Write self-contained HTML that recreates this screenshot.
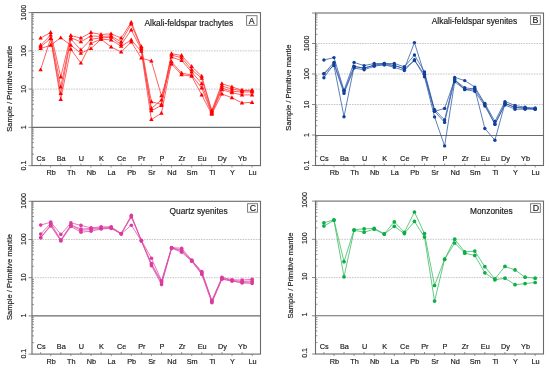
<!DOCTYPE html>
<html><head><meta charset="utf-8"><title>Spider diagrams</title>
<style>
html,body{margin:0;padding:0;background:#fff;width:550px;height:372px;overflow:hidden}
svg{display:block}
text{font-family:'Liberation Sans', Arial, Helvetica, sans-serif;fill:#1c1c1c;stroke:#1c1c1c;stroke-width:0.18px}
</style></head><body>
<svg width="550" height="372" viewBox="0 0 550 372">
<rect width="550" height="372" fill="#fff"/>
<line x1="32" y1="89.1" x2="260.5" y2="89.1" stroke="#b8b8b8" stroke-width="0.8" stroke-dasharray="1.6,1"/>
<line x1="32" y1="50.85" x2="260.5" y2="50.85" stroke="#b8b8b8" stroke-width="0.8" stroke-dasharray="1.6,1"/>
<line x1="32" y1="127.35" x2="260.5" y2="127.35" stroke="#6a6a6a" stroke-width="1.1"/>
<line x1="32" y1="154.09" x2="34" y2="154.09" stroke="#6a6a6a" stroke-width="0.7"/>
<line x1="32" y1="147.35" x2="34" y2="147.35" stroke="#6a6a6a" stroke-width="0.7"/>
<line x1="32" y1="142.57" x2="34" y2="142.57" stroke="#6a6a6a" stroke-width="0.7"/>
<line x1="32" y1="138.86" x2="34" y2="138.86" stroke="#6a6a6a" stroke-width="0.7"/>
<line x1="32" y1="135.84" x2="34" y2="135.84" stroke="#6a6a6a" stroke-width="0.7"/>
<line x1="32" y1="133.27" x2="34" y2="133.27" stroke="#6a6a6a" stroke-width="0.7"/>
<line x1="32" y1="131.06" x2="34" y2="131.06" stroke="#6a6a6a" stroke-width="0.7"/>
<line x1="32" y1="129.1" x2="34" y2="129.1" stroke="#6a6a6a" stroke-width="0.7"/>
<line x1="32" y1="115.84" x2="34" y2="115.84" stroke="#6a6a6a" stroke-width="0.7"/>
<line x1="32" y1="109.1" x2="34" y2="109.1" stroke="#6a6a6a" stroke-width="0.7"/>
<line x1="32" y1="104.32" x2="34" y2="104.32" stroke="#6a6a6a" stroke-width="0.7"/>
<line x1="32" y1="100.61" x2="34" y2="100.61" stroke="#6a6a6a" stroke-width="0.7"/>
<line x1="32" y1="97.59" x2="34" y2="97.59" stroke="#6a6a6a" stroke-width="0.7"/>
<line x1="32" y1="95.02" x2="34" y2="95.02" stroke="#6a6a6a" stroke-width="0.7"/>
<line x1="32" y1="92.81" x2="34" y2="92.81" stroke="#6a6a6a" stroke-width="0.7"/>
<line x1="32" y1="90.85" x2="34" y2="90.85" stroke="#6a6a6a" stroke-width="0.7"/>
<line x1="32" y1="77.59" x2="34" y2="77.59" stroke="#6a6a6a" stroke-width="0.7"/>
<line x1="32" y1="70.85" x2="34" y2="70.85" stroke="#6a6a6a" stroke-width="0.7"/>
<line x1="32" y1="66.07" x2="34" y2="66.07" stroke="#6a6a6a" stroke-width="0.7"/>
<line x1="32" y1="62.36" x2="34" y2="62.36" stroke="#6a6a6a" stroke-width="0.7"/>
<line x1="32" y1="59.34" x2="34" y2="59.34" stroke="#6a6a6a" stroke-width="0.7"/>
<line x1="32" y1="56.77" x2="34" y2="56.77" stroke="#6a6a6a" stroke-width="0.7"/>
<line x1="32" y1="54.56" x2="34" y2="54.56" stroke="#6a6a6a" stroke-width="0.7"/>
<line x1="32" y1="52.6" x2="34" y2="52.6" stroke="#6a6a6a" stroke-width="0.7"/>
<line x1="32" y1="39.34" x2="34" y2="39.34" stroke="#6a6a6a" stroke-width="0.7"/>
<line x1="32" y1="32.6" x2="34" y2="32.6" stroke="#6a6a6a" stroke-width="0.7"/>
<line x1="32" y1="27.82" x2="34" y2="27.82" stroke="#6a6a6a" stroke-width="0.7"/>
<line x1="32" y1="24.11" x2="34" y2="24.11" stroke="#6a6a6a" stroke-width="0.7"/>
<line x1="32" y1="21.09" x2="34" y2="21.09" stroke="#6a6a6a" stroke-width="0.7"/>
<line x1="32" y1="18.52" x2="34" y2="18.52" stroke="#6a6a6a" stroke-width="0.7"/>
<line x1="32" y1="16.31" x2="34" y2="16.31" stroke="#6a6a6a" stroke-width="0.7"/>
<line x1="32" y1="14.35" x2="34" y2="14.35" stroke="#6a6a6a" stroke-width="0.7"/>
<line x1="28.5" y1="165.6" x2="32" y2="165.6" stroke="#6a6a6a" stroke-width="0.8"/>
<line x1="28.5" y1="127.35" x2="32" y2="127.35" stroke="#6a6a6a" stroke-width="0.8"/>
<line x1="28.5" y1="89.1" x2="32" y2="89.1" stroke="#6a6a6a" stroke-width="0.8"/>
<line x1="28.5" y1="50.85" x2="32" y2="50.85" stroke="#6a6a6a" stroke-width="0.8"/>
<line x1="28.5" y1="12.6" x2="32" y2="12.6" stroke="#6a6a6a" stroke-width="0.8"/>
<line x1="40.6" y1="165.6" x2="40.6" y2="163.6" stroke="#6a6a6a" stroke-width="0.7"/>
<line x1="50.67" y1="165.6" x2="50.67" y2="167.6" stroke="#6a6a6a" stroke-width="0.7"/>
<line x1="60.74" y1="165.6" x2="60.74" y2="163.6" stroke="#6a6a6a" stroke-width="0.7"/>
<line x1="70.81" y1="165.6" x2="70.81" y2="167.6" stroke="#6a6a6a" stroke-width="0.7"/>
<line x1="80.88" y1="165.6" x2="80.88" y2="163.6" stroke="#6a6a6a" stroke-width="0.7"/>
<line x1="90.95" y1="165.6" x2="90.95" y2="167.6" stroke="#6a6a6a" stroke-width="0.7"/>
<line x1="101.02" y1="165.6" x2="101.02" y2="163.6" stroke="#6a6a6a" stroke-width="0.7"/>
<line x1="111.09" y1="165.6" x2="111.09" y2="167.6" stroke="#6a6a6a" stroke-width="0.7"/>
<line x1="121.16" y1="165.6" x2="121.16" y2="163.6" stroke="#6a6a6a" stroke-width="0.7"/>
<line x1="131.23" y1="165.6" x2="131.23" y2="167.6" stroke="#6a6a6a" stroke-width="0.7"/>
<line x1="141.3" y1="165.6" x2="141.3" y2="163.6" stroke="#6a6a6a" stroke-width="0.7"/>
<line x1="151.37" y1="165.6" x2="151.37" y2="167.6" stroke="#6a6a6a" stroke-width="0.7"/>
<line x1="161.44" y1="165.6" x2="161.44" y2="163.6" stroke="#6a6a6a" stroke-width="0.7"/>
<line x1="171.51" y1="165.6" x2="171.51" y2="167.6" stroke="#6a6a6a" stroke-width="0.7"/>
<line x1="181.58" y1="165.6" x2="181.58" y2="163.6" stroke="#6a6a6a" stroke-width="0.7"/>
<line x1="191.65" y1="165.6" x2="191.65" y2="167.6" stroke="#6a6a6a" stroke-width="0.7"/>
<line x1="201.72" y1="165.6" x2="201.72" y2="163.6" stroke="#6a6a6a" stroke-width="0.7"/>
<line x1="211.79" y1="165.6" x2="211.79" y2="167.6" stroke="#6a6a6a" stroke-width="0.7"/>
<line x1="221.86" y1="165.6" x2="221.86" y2="163.6" stroke="#6a6a6a" stroke-width="0.7"/>
<line x1="231.93" y1="165.6" x2="231.93" y2="167.6" stroke="#6a6a6a" stroke-width="0.7"/>
<line x1="242" y1="165.6" x2="242" y2="163.6" stroke="#6a6a6a" stroke-width="0.7"/>
<line x1="252.07" y1="165.6" x2="252.07" y2="167.6" stroke="#6a6a6a" stroke-width="0.7"/>
<rect x="32" y="12.6" width="228.5" height="153" fill="none" stroke="#6a6a6a" stroke-width="1.1"/>
<text x="41" y="160.9" text-anchor="middle" font-size="7.3">Cs</text>
<text x="51.07" y="175.4" text-anchor="middle" font-size="7.3">Rb</text>
<text x="61.14" y="160.9" text-anchor="middle" font-size="7.3">Ba</text>
<text x="71.21" y="175.4" text-anchor="middle" font-size="7.3">Th</text>
<text x="81.28" y="160.9" text-anchor="middle" font-size="7.3">U</text>
<text x="91.35" y="175.4" text-anchor="middle" font-size="7.3">Nb</text>
<text x="101.42" y="160.9" text-anchor="middle" font-size="7.3">K</text>
<text x="111.49" y="175.4" text-anchor="middle" font-size="7.3">La</text>
<text x="121.56" y="160.9" text-anchor="middle" font-size="7.3">Ce</text>
<text x="131.63" y="175.4" text-anchor="middle" font-size="7.3">Pb</text>
<text x="141.7" y="160.9" text-anchor="middle" font-size="7.3">Pr</text>
<text x="151.77" y="175.4" text-anchor="middle" font-size="7.3">Sr</text>
<text x="161.84" y="160.9" text-anchor="middle" font-size="7.3">P</text>
<text x="171.91" y="175.4" text-anchor="middle" font-size="7.3">Nd</text>
<text x="181.98" y="160.9" text-anchor="middle" font-size="7.3">Zr</text>
<text x="192.05" y="175.4" text-anchor="middle" font-size="7.3">Sm</text>
<text x="202.12" y="160.9" text-anchor="middle" font-size="7.3">Eu</text>
<text x="212.19" y="175.4" text-anchor="middle" font-size="7.3">Ti</text>
<text x="222.26" y="160.9" text-anchor="middle" font-size="7.3">Dy</text>
<text x="232.33" y="175.4" text-anchor="middle" font-size="7.3">Y</text>
<text x="242.4" y="160.9" text-anchor="middle" font-size="7.3">Yb</text>
<text x="252.47" y="175.4" text-anchor="middle" font-size="7.3">Lu</text>
<text transform="translate(25.9,165.6) rotate(-90)" text-anchor="middle" font-size="7">0.1</text>
<text transform="translate(25.9,127.35) rotate(-90)" text-anchor="middle" font-size="7">1</text>
<text transform="translate(25.9,89.1) rotate(-90)" text-anchor="middle" font-size="7">10</text>
<text transform="translate(25.9,50.85) rotate(-90)" text-anchor="middle" font-size="7">100</text>
<text transform="translate(25.9,12.6) rotate(-90)" text-anchor="middle" font-size="7">1000</text>
<text transform="translate(11.9,88.8) rotate(-90)" text-anchor="middle" font-size="7.6">Sample / Primitive mantle</text>
<text x="144.5" y="25.5" font-size="8.35">Alkali-feldspar trachytes</text>
<rect x="246.6" y="15.7" width="10.4" height="9.6" fill="none" stroke="#707070" stroke-width="0.9"/>
<text x="251.8" y="23.5" text-anchor="middle" font-size="8.8">A</text>
<polyline points="40.6,38.1 50.67,32.4 60.74,76.9 70.81,35.5 80.88,38.1 90.95,32.5 101.02,34.5 111.09,33.8 121.16,38.1 131.23,22.3 141.3,46.6 151.37,101.7 161.44,104.4 171.51,53.7 181.58,55.5 191.65,66.5 201.72,76.2 211.79,110.6 221.86,83.7 231.93,86.9 242,90.2 252.07,90.2" fill="none" stroke="#ff3a3a" stroke-width="0.8" stroke-linejoin="round"/>
<polyline points="40.6,45.2 50.67,35.1 60.74,86.9 70.81,37.8 80.88,41.8 90.95,35.9 101.02,36.5 111.09,35.9 121.16,41.9 131.23,24 141.3,48 151.37,108.4 161.44,100 171.51,55 181.58,57.8 191.65,69.7 201.72,78.3 211.79,111.5 221.86,85.9 231.93,89.1 242,90.6 252.07,90.8" fill="none" stroke="#ff3a3a" stroke-width="0.8" stroke-linejoin="round"/>
<polyline points="40.6,46.8 50.67,38.5 60.74,93.6 70.81,39.1 80.88,49.9 90.95,39.2 101.02,37.9 111.09,37.2 121.16,44.6 131.23,29.9 141.3,49.3 151.37,110.8 161.44,105.4 171.51,57.1 181.58,60.6 191.65,71.9 201.72,83.7 211.79,112.7 221.86,88 231.93,91.2 242,92 252.07,92" fill="none" stroke="#ff3a3a" stroke-width="0.8" stroke-linejoin="round"/>
<polyline points="40.6,69.8 50.67,38.5 60.74,99.4 70.81,49.2 80.88,63.1 90.95,43.3 101.02,39.2 111.09,39.9 121.16,46.2 131.23,40 141.3,51.3 151.37,119.6 161.44,113.2 171.51,61.7 181.58,73.1 191.65,75.1 201.72,88 211.79,113.5 221.86,89.7 231.93,92.7 242,94.9 252.07,94.9" fill="none" stroke="#ff3a3a" stroke-width="0.8" stroke-linejoin="round"/>
<polyline points="40.6,48.6 50.67,45.2 60.74,37.8 70.81,45.2 80.88,53.3 90.95,48.6 101.02,39.2 111.09,46.9 121.16,52 131.23,42 141.3,58.1 151.37,61 161.44,95.8 171.51,64 181.58,74.7 191.65,76.2 201.72,94.9 211.79,114.2 221.86,94 231.93,97.7 242,102.9 252.07,102.4" fill="none" stroke="#ff3a3a" stroke-width="0.8" stroke-linejoin="round"/>
<path d="M40.6,35.7L42.8,39.6L38.4,39.6Z" fill="#ff0000"/>
<path d="M50.67,30L52.87,33.9L48.47,33.9Z" fill="#ff0000"/>
<path d="M60.74,74.5L62.94,78.4L58.54,78.4Z" fill="#ff0000"/>
<path d="M70.81,33.1L73.01,37L68.61,37Z" fill="#ff0000"/>
<path d="M80.88,35.7L83.08,39.6L78.68,39.6Z" fill="#ff0000"/>
<path d="M90.95,30.1L93.15,34L88.75,34Z" fill="#ff0000"/>
<path d="M101.02,32.1L103.22,36L98.82,36Z" fill="#ff0000"/>
<path d="M111.09,31.4L113.29,35.3L108.89,35.3Z" fill="#ff0000"/>
<path d="M121.16,35.7L123.36,39.6L118.96,39.6Z" fill="#ff0000"/>
<path d="M131.23,19.9L133.43,23.8L129.03,23.8Z" fill="#ff0000"/>
<path d="M141.3,44.2L143.5,48.1L139.1,48.1Z" fill="#ff0000"/>
<path d="M151.37,99.3L153.57,103.2L149.17,103.2Z" fill="#ff0000"/>
<path d="M161.44,102L163.64,105.9L159.24,105.9Z" fill="#ff0000"/>
<path d="M171.51,51.3L173.71,55.2L169.31,55.2Z" fill="#ff0000"/>
<path d="M181.58,53.1L183.78,57L179.38,57Z" fill="#ff0000"/>
<path d="M191.65,64.1L193.85,68L189.45,68Z" fill="#ff0000"/>
<path d="M201.72,73.8L203.92,77.7L199.52,77.7Z" fill="#ff0000"/>
<path d="M211.79,108.2L213.99,112.1L209.59,112.1Z" fill="#ff0000"/>
<path d="M221.86,81.3L224.06,85.2L219.66,85.2Z" fill="#ff0000"/>
<path d="M231.93,84.5L234.13,88.4L229.73,88.4Z" fill="#ff0000"/>
<path d="M242,87.8L244.2,91.7L239.8,91.7Z" fill="#ff0000"/>
<path d="M252.07,87.8L254.27,91.7L249.87,91.7Z" fill="#ff0000"/>
<path d="M40.6,42.8L42.8,46.7L38.4,46.7Z" fill="#ff0000"/>
<path d="M50.67,32.7L52.87,36.6L48.47,36.6Z" fill="#ff0000"/>
<path d="M60.74,84.5L62.94,88.4L58.54,88.4Z" fill="#ff0000"/>
<path d="M70.81,35.4L73.01,39.3L68.61,39.3Z" fill="#ff0000"/>
<path d="M80.88,39.4L83.08,43.3L78.68,43.3Z" fill="#ff0000"/>
<path d="M90.95,33.5L93.15,37.4L88.75,37.4Z" fill="#ff0000"/>
<path d="M101.02,34.1L103.22,38L98.82,38Z" fill="#ff0000"/>
<path d="M111.09,33.5L113.29,37.4L108.89,37.4Z" fill="#ff0000"/>
<path d="M121.16,39.5L123.36,43.4L118.96,43.4Z" fill="#ff0000"/>
<path d="M131.23,21.6L133.43,25.5L129.03,25.5Z" fill="#ff0000"/>
<path d="M141.3,45.6L143.5,49.5L139.1,49.5Z" fill="#ff0000"/>
<path d="M151.37,106L153.57,109.9L149.17,109.9Z" fill="#ff0000"/>
<path d="M161.44,97.6L163.64,101.5L159.24,101.5Z" fill="#ff0000"/>
<path d="M171.51,52.6L173.71,56.5L169.31,56.5Z" fill="#ff0000"/>
<path d="M181.58,55.4L183.78,59.3L179.38,59.3Z" fill="#ff0000"/>
<path d="M191.65,67.3L193.85,71.2L189.45,71.2Z" fill="#ff0000"/>
<path d="M201.72,75.9L203.92,79.8L199.52,79.8Z" fill="#ff0000"/>
<path d="M211.79,109.1L213.99,113L209.59,113Z" fill="#ff0000"/>
<path d="M221.86,83.5L224.06,87.4L219.66,87.4Z" fill="#ff0000"/>
<path d="M231.93,86.7L234.13,90.6L229.73,90.6Z" fill="#ff0000"/>
<path d="M242,88.2L244.2,92.1L239.8,92.1Z" fill="#ff0000"/>
<path d="M252.07,88.4L254.27,92.3L249.87,92.3Z" fill="#ff0000"/>
<path d="M40.6,44.4L42.8,48.3L38.4,48.3Z" fill="#ff0000"/>
<path d="M50.67,36.1L52.87,40L48.47,40Z" fill="#ff0000"/>
<path d="M60.74,91.2L62.94,95.1L58.54,95.1Z" fill="#ff0000"/>
<path d="M70.81,36.7L73.01,40.6L68.61,40.6Z" fill="#ff0000"/>
<path d="M80.88,47.5L83.08,51.4L78.68,51.4Z" fill="#ff0000"/>
<path d="M90.95,36.8L93.15,40.7L88.75,40.7Z" fill="#ff0000"/>
<path d="M101.02,35.5L103.22,39.4L98.82,39.4Z" fill="#ff0000"/>
<path d="M111.09,34.8L113.29,38.7L108.89,38.7Z" fill="#ff0000"/>
<path d="M121.16,42.2L123.36,46.1L118.96,46.1Z" fill="#ff0000"/>
<path d="M131.23,27.5L133.43,31.4L129.03,31.4Z" fill="#ff0000"/>
<path d="M141.3,46.9L143.5,50.8L139.1,50.8Z" fill="#ff0000"/>
<path d="M151.37,108.4L153.57,112.3L149.17,112.3Z" fill="#ff0000"/>
<path d="M161.44,103L163.64,106.9L159.24,106.9Z" fill="#ff0000"/>
<path d="M171.51,54.7L173.71,58.6L169.31,58.6Z" fill="#ff0000"/>
<path d="M181.58,58.2L183.78,62.1L179.38,62.1Z" fill="#ff0000"/>
<path d="M191.65,69.5L193.85,73.4L189.45,73.4Z" fill="#ff0000"/>
<path d="M201.72,81.3L203.92,85.2L199.52,85.2Z" fill="#ff0000"/>
<path d="M211.79,110.3L213.99,114.2L209.59,114.2Z" fill="#ff0000"/>
<path d="M221.86,85.6L224.06,89.5L219.66,89.5Z" fill="#ff0000"/>
<path d="M231.93,88.8L234.13,92.7L229.73,92.7Z" fill="#ff0000"/>
<path d="M242,89.6L244.2,93.5L239.8,93.5Z" fill="#ff0000"/>
<path d="M252.07,89.6L254.27,93.5L249.87,93.5Z" fill="#ff0000"/>
<path d="M40.6,67.4L42.8,71.3L38.4,71.3Z" fill="#ff0000"/>
<path d="M50.67,36.1L52.87,40L48.47,40Z" fill="#ff0000"/>
<path d="M60.74,97L62.94,100.9L58.54,100.9Z" fill="#ff0000"/>
<path d="M70.81,46.8L73.01,50.7L68.61,50.7Z" fill="#ff0000"/>
<path d="M80.88,60.7L83.08,64.6L78.68,64.6Z" fill="#ff0000"/>
<path d="M90.95,40.9L93.15,44.8L88.75,44.8Z" fill="#ff0000"/>
<path d="M101.02,36.8L103.22,40.7L98.82,40.7Z" fill="#ff0000"/>
<path d="M111.09,37.5L113.29,41.4L108.89,41.4Z" fill="#ff0000"/>
<path d="M121.16,43.8L123.36,47.7L118.96,47.7Z" fill="#ff0000"/>
<path d="M131.23,37.6L133.43,41.5L129.03,41.5Z" fill="#ff0000"/>
<path d="M141.3,48.9L143.5,52.8L139.1,52.8Z" fill="#ff0000"/>
<path d="M151.37,117.2L153.57,121.1L149.17,121.1Z" fill="#ff0000"/>
<path d="M161.44,110.8L163.64,114.7L159.24,114.7Z" fill="#ff0000"/>
<path d="M171.51,59.3L173.71,63.2L169.31,63.2Z" fill="#ff0000"/>
<path d="M181.58,70.7L183.78,74.6L179.38,74.6Z" fill="#ff0000"/>
<path d="M191.65,72.7L193.85,76.6L189.45,76.6Z" fill="#ff0000"/>
<path d="M201.72,85.6L203.92,89.5L199.52,89.5Z" fill="#ff0000"/>
<path d="M211.79,111.1L213.99,115L209.59,115Z" fill="#ff0000"/>
<path d="M221.86,87.3L224.06,91.2L219.66,91.2Z" fill="#ff0000"/>
<path d="M231.93,90.3L234.13,94.2L229.73,94.2Z" fill="#ff0000"/>
<path d="M242,92.5L244.2,96.4L239.8,96.4Z" fill="#ff0000"/>
<path d="M252.07,92.5L254.27,96.4L249.87,96.4Z" fill="#ff0000"/>
<path d="M40.6,46.2L42.8,50.1L38.4,50.1Z" fill="#ff0000"/>
<path d="M50.67,42.8L52.87,46.7L48.47,46.7Z" fill="#ff0000"/>
<path d="M60.74,35.4L62.94,39.3L58.54,39.3Z" fill="#ff0000"/>
<path d="M70.81,42.8L73.01,46.7L68.61,46.7Z" fill="#ff0000"/>
<path d="M80.88,50.9L83.08,54.8L78.68,54.8Z" fill="#ff0000"/>
<path d="M90.95,46.2L93.15,50.1L88.75,50.1Z" fill="#ff0000"/>
<path d="M101.02,36.8L103.22,40.7L98.82,40.7Z" fill="#ff0000"/>
<path d="M111.09,44.5L113.29,48.4L108.89,48.4Z" fill="#ff0000"/>
<path d="M121.16,49.6L123.36,53.5L118.96,53.5Z" fill="#ff0000"/>
<path d="M131.23,39.6L133.43,43.5L129.03,43.5Z" fill="#ff0000"/>
<path d="M141.3,55.7L143.5,59.6L139.1,59.6Z" fill="#ff0000"/>
<path d="M151.37,58.6L153.57,62.5L149.17,62.5Z" fill="#ff0000"/>
<path d="M161.44,93.4L163.64,97.3L159.24,97.3Z" fill="#ff0000"/>
<path d="M171.51,61.6L173.71,65.5L169.31,65.5Z" fill="#ff0000"/>
<path d="M181.58,72.3L183.78,76.2L179.38,76.2Z" fill="#ff0000"/>
<path d="M191.65,73.8L193.85,77.7L189.45,77.7Z" fill="#ff0000"/>
<path d="M201.72,92.5L203.92,96.4L199.52,96.4Z" fill="#ff0000"/>
<path d="M211.79,111.8L213.99,115.7L209.59,115.7Z" fill="#ff0000"/>
<path d="M221.86,91.6L224.06,95.5L219.66,95.5Z" fill="#ff0000"/>
<path d="M231.93,95.3L234.13,99.2L229.73,99.2Z" fill="#ff0000"/>
<path d="M242,100.5L244.2,104.4L239.8,104.4Z" fill="#ff0000"/>
<path d="M252.07,100L254.27,103.9L249.87,103.9Z" fill="#ff0000"/>
<line x1="315.5" y1="104.5" x2="543.5" y2="104.5" stroke="#b8b8b8" stroke-width="0.8" stroke-dasharray="1.6,1"/>
<line x1="315.5" y1="74" x2="543.5" y2="74" stroke="#b8b8b8" stroke-width="0.8" stroke-dasharray="1.6,1"/>
<line x1="315.5" y1="43.5" x2="543.5" y2="43.5" stroke="#b8b8b8" stroke-width="0.8" stroke-dasharray="1.6,1"/>
<line x1="315.5" y1="135.45" x2="543.5" y2="135.45" stroke="#6a6a6a" stroke-width="1.1"/>
<line x1="315.5" y1="156.32" x2="317.5" y2="156.32" stroke="#6a6a6a" stroke-width="0.7"/>
<line x1="315.5" y1="150.95" x2="317.5" y2="150.95" stroke="#6a6a6a" stroke-width="0.7"/>
<line x1="315.5" y1="147.14" x2="317.5" y2="147.14" stroke="#6a6a6a" stroke-width="0.7"/>
<line x1="315.5" y1="144.18" x2="317.5" y2="144.18" stroke="#6a6a6a" stroke-width="0.7"/>
<line x1="315.5" y1="141.77" x2="317.5" y2="141.77" stroke="#6a6a6a" stroke-width="0.7"/>
<line x1="315.5" y1="139.72" x2="317.5" y2="139.72" stroke="#6a6a6a" stroke-width="0.7"/>
<line x1="315.5" y1="137.96" x2="317.5" y2="137.96" stroke="#6a6a6a" stroke-width="0.7"/>
<line x1="315.5" y1="136.4" x2="317.5" y2="136.4" stroke="#6a6a6a" stroke-width="0.7"/>
<line x1="315.5" y1="125.82" x2="317.5" y2="125.82" stroke="#6a6a6a" stroke-width="0.7"/>
<line x1="315.5" y1="120.45" x2="317.5" y2="120.45" stroke="#6a6a6a" stroke-width="0.7"/>
<line x1="315.5" y1="116.64" x2="317.5" y2="116.64" stroke="#6a6a6a" stroke-width="0.7"/>
<line x1="315.5" y1="113.68" x2="317.5" y2="113.68" stroke="#6a6a6a" stroke-width="0.7"/>
<line x1="315.5" y1="111.27" x2="317.5" y2="111.27" stroke="#6a6a6a" stroke-width="0.7"/>
<line x1="315.5" y1="109.22" x2="317.5" y2="109.22" stroke="#6a6a6a" stroke-width="0.7"/>
<line x1="315.5" y1="107.46" x2="317.5" y2="107.46" stroke="#6a6a6a" stroke-width="0.7"/>
<line x1="315.5" y1="105.9" x2="317.5" y2="105.9" stroke="#6a6a6a" stroke-width="0.7"/>
<line x1="315.5" y1="95.32" x2="317.5" y2="95.32" stroke="#6a6a6a" stroke-width="0.7"/>
<line x1="315.5" y1="89.95" x2="317.5" y2="89.95" stroke="#6a6a6a" stroke-width="0.7"/>
<line x1="315.5" y1="86.14" x2="317.5" y2="86.14" stroke="#6a6a6a" stroke-width="0.7"/>
<line x1="315.5" y1="83.18" x2="317.5" y2="83.18" stroke="#6a6a6a" stroke-width="0.7"/>
<line x1="315.5" y1="80.77" x2="317.5" y2="80.77" stroke="#6a6a6a" stroke-width="0.7"/>
<line x1="315.5" y1="78.72" x2="317.5" y2="78.72" stroke="#6a6a6a" stroke-width="0.7"/>
<line x1="315.5" y1="76.96" x2="317.5" y2="76.96" stroke="#6a6a6a" stroke-width="0.7"/>
<line x1="315.5" y1="75.4" x2="317.5" y2="75.4" stroke="#6a6a6a" stroke-width="0.7"/>
<line x1="315.5" y1="64.82" x2="317.5" y2="64.82" stroke="#6a6a6a" stroke-width="0.7"/>
<line x1="315.5" y1="59.45" x2="317.5" y2="59.45" stroke="#6a6a6a" stroke-width="0.7"/>
<line x1="315.5" y1="55.64" x2="317.5" y2="55.64" stroke="#6a6a6a" stroke-width="0.7"/>
<line x1="315.5" y1="52.68" x2="317.5" y2="52.68" stroke="#6a6a6a" stroke-width="0.7"/>
<line x1="315.5" y1="50.27" x2="317.5" y2="50.27" stroke="#6a6a6a" stroke-width="0.7"/>
<line x1="315.5" y1="48.22" x2="317.5" y2="48.22" stroke="#6a6a6a" stroke-width="0.7"/>
<line x1="315.5" y1="46.46" x2="317.5" y2="46.46" stroke="#6a6a6a" stroke-width="0.7"/>
<line x1="315.5" y1="44.9" x2="317.5" y2="44.9" stroke="#6a6a6a" stroke-width="0.7"/>
<line x1="315.5" y1="34.32" x2="317.5" y2="34.32" stroke="#6a6a6a" stroke-width="0.7"/>
<line x1="315.5" y1="28.95" x2="317.5" y2="28.95" stroke="#6a6a6a" stroke-width="0.7"/>
<line x1="315.5" y1="25.14" x2="317.5" y2="25.14" stroke="#6a6a6a" stroke-width="0.7"/>
<line x1="315.5" y1="22.18" x2="317.5" y2="22.18" stroke="#6a6a6a" stroke-width="0.7"/>
<line x1="315.5" y1="19.77" x2="317.5" y2="19.77" stroke="#6a6a6a" stroke-width="0.7"/>
<line x1="315.5" y1="17.72" x2="317.5" y2="17.72" stroke="#6a6a6a" stroke-width="0.7"/>
<line x1="315.5" y1="15.96" x2="317.5" y2="15.96" stroke="#6a6a6a" stroke-width="0.7"/>
<line x1="315.5" y1="14.4" x2="317.5" y2="14.4" stroke="#6a6a6a" stroke-width="0.7"/>
<line x1="312" y1="165.5" x2="315.5" y2="165.5" stroke="#6a6a6a" stroke-width="0.8"/>
<line x1="312" y1="135" x2="315.5" y2="135" stroke="#6a6a6a" stroke-width="0.8"/>
<line x1="312" y1="104.5" x2="315.5" y2="104.5" stroke="#6a6a6a" stroke-width="0.8"/>
<line x1="312" y1="74" x2="315.5" y2="74" stroke="#6a6a6a" stroke-width="0.8"/>
<line x1="312" y1="43.5" x2="315.5" y2="43.5" stroke="#6a6a6a" stroke-width="0.8"/>
<line x1="312" y1="13" x2="315.5" y2="13" stroke="#6a6a6a" stroke-width="0.8"/>
<line x1="323.9" y1="165.5" x2="323.9" y2="163.5" stroke="#6a6a6a" stroke-width="0.7"/>
<line x1="333.96" y1="165.5" x2="333.96" y2="167.5" stroke="#6a6a6a" stroke-width="0.7"/>
<line x1="344.02" y1="165.5" x2="344.02" y2="163.5" stroke="#6a6a6a" stroke-width="0.7"/>
<line x1="354.08" y1="165.5" x2="354.08" y2="167.5" stroke="#6a6a6a" stroke-width="0.7"/>
<line x1="364.14" y1="165.5" x2="364.14" y2="163.5" stroke="#6a6a6a" stroke-width="0.7"/>
<line x1="374.2" y1="165.5" x2="374.2" y2="167.5" stroke="#6a6a6a" stroke-width="0.7"/>
<line x1="384.26" y1="165.5" x2="384.26" y2="163.5" stroke="#6a6a6a" stroke-width="0.7"/>
<line x1="394.32" y1="165.5" x2="394.32" y2="167.5" stroke="#6a6a6a" stroke-width="0.7"/>
<line x1="404.38" y1="165.5" x2="404.38" y2="163.5" stroke="#6a6a6a" stroke-width="0.7"/>
<line x1="414.44" y1="165.5" x2="414.44" y2="167.5" stroke="#6a6a6a" stroke-width="0.7"/>
<line x1="424.5" y1="165.5" x2="424.5" y2="163.5" stroke="#6a6a6a" stroke-width="0.7"/>
<line x1="434.56" y1="165.5" x2="434.56" y2="167.5" stroke="#6a6a6a" stroke-width="0.7"/>
<line x1="444.62" y1="165.5" x2="444.62" y2="163.5" stroke="#6a6a6a" stroke-width="0.7"/>
<line x1="454.68" y1="165.5" x2="454.68" y2="167.5" stroke="#6a6a6a" stroke-width="0.7"/>
<line x1="464.74" y1="165.5" x2="464.74" y2="163.5" stroke="#6a6a6a" stroke-width="0.7"/>
<line x1="474.8" y1="165.5" x2="474.8" y2="167.5" stroke="#6a6a6a" stroke-width="0.7"/>
<line x1="484.86" y1="165.5" x2="484.86" y2="163.5" stroke="#6a6a6a" stroke-width="0.7"/>
<line x1="494.92" y1="165.5" x2="494.92" y2="167.5" stroke="#6a6a6a" stroke-width="0.7"/>
<line x1="504.98" y1="165.5" x2="504.98" y2="163.5" stroke="#6a6a6a" stroke-width="0.7"/>
<line x1="515.04" y1="165.5" x2="515.04" y2="167.5" stroke="#6a6a6a" stroke-width="0.7"/>
<line x1="525.1" y1="165.5" x2="525.1" y2="163.5" stroke="#6a6a6a" stroke-width="0.7"/>
<line x1="535.16" y1="165.5" x2="535.16" y2="167.5" stroke="#6a6a6a" stroke-width="0.7"/>
<rect x="315.5" y="13" width="228" height="152.5" fill="none" stroke="#6a6a6a" stroke-width="1.1"/>
<text x="324.3" y="160.8" text-anchor="middle" font-size="7.3">Cs</text>
<text x="334.36" y="175.3" text-anchor="middle" font-size="7.3">Rb</text>
<text x="344.42" y="160.8" text-anchor="middle" font-size="7.3">Ba</text>
<text x="354.48" y="175.3" text-anchor="middle" font-size="7.3">Th</text>
<text x="364.54" y="160.8" text-anchor="middle" font-size="7.3">U</text>
<text x="374.6" y="175.3" text-anchor="middle" font-size="7.3">Nb</text>
<text x="384.66" y="160.8" text-anchor="middle" font-size="7.3">K</text>
<text x="394.72" y="175.3" text-anchor="middle" font-size="7.3">La</text>
<text x="404.78" y="160.8" text-anchor="middle" font-size="7.3">Ce</text>
<text x="414.84" y="175.3" text-anchor="middle" font-size="7.3">Pb</text>
<text x="424.9" y="160.8" text-anchor="middle" font-size="7.3">Pr</text>
<text x="434.96" y="175.3" text-anchor="middle" font-size="7.3">Sr</text>
<text x="445.02" y="160.8" text-anchor="middle" font-size="7.3">P</text>
<text x="455.08" y="175.3" text-anchor="middle" font-size="7.3">Nd</text>
<text x="465.14" y="160.8" text-anchor="middle" font-size="7.3">Zr</text>
<text x="475.2" y="175.3" text-anchor="middle" font-size="7.3">Sm</text>
<text x="485.26" y="160.8" text-anchor="middle" font-size="7.3">Eu</text>
<text x="495.32" y="175.3" text-anchor="middle" font-size="7.3">Ti</text>
<text x="505.38" y="160.8" text-anchor="middle" font-size="7.3">Dy</text>
<text x="515.44" y="175.3" text-anchor="middle" font-size="7.3">Y</text>
<text x="525.5" y="160.8" text-anchor="middle" font-size="7.3">Yb</text>
<text x="535.56" y="175.3" text-anchor="middle" font-size="7.3">Lu</text>
<text transform="translate(309.2,165.5) rotate(-90)" text-anchor="middle" font-size="7">0.1</text>
<text transform="translate(309.2,135) rotate(-90)" text-anchor="middle" font-size="7">1</text>
<text transform="translate(309.2,104.5) rotate(-90)" text-anchor="middle" font-size="7">10</text>
<text transform="translate(309.2,74) rotate(-90)" text-anchor="middle" font-size="7">100</text>
<text transform="translate(309.2,43.5) rotate(-90)" text-anchor="middle" font-size="7">1000</text>
<text transform="translate(291.2,87.6) rotate(-90)" text-anchor="middle" font-size="7.6">Sample / Primitive mantle</text>
<text x="431.8" y="23.8" font-size="8.35">Alkali-feldspar syenites</text>
<rect x="530.6" y="15.7" width="9.7" height="8.7" fill="none" stroke="#707070" stroke-width="0.9"/>
<text x="535.5" y="22.7" text-anchor="middle" font-size="8.8">B</text>
<polyline points="323.9,60 333.96,57.6 344.02,90.3 354.08,62.4 364.14,65.6 374.2,63.5 384.26,63.5 394.32,63.5 404.38,66.8 414.44,55 424.5,72 434.56,109.6 444.62,120 454.68,77.4 464.74,80.6 474.8,87.1 484.86,103.5 494.92,121.4 504.98,101.6 515.04,105.4 525.1,107.3 535.16,108.2" fill="none" stroke="#2a56a6" stroke-width="0.75" stroke-linejoin="round"/>
<polyline points="323.9,73.7 333.96,62.4 344.02,91.6 354.08,66.5 364.14,68.1 374.2,65.2 384.26,64.7 394.32,65.5 404.38,68.7 414.44,42.6 424.5,74.4 434.56,111.3 444.62,108.4 454.68,79.8 464.74,87.8 474.8,89 484.86,104.5 494.92,124.2 504.98,103.5 515.04,107.3 525.1,108.2 535.16,109.2" fill="none" stroke="#2a56a6" stroke-width="0.75" stroke-linejoin="round"/>
<polyline points="323.9,77.7 333.96,64 344.02,93.4 354.08,68.1 364.14,69.7 374.2,66.3 384.26,64.7 394.32,67.4 404.38,70.6 414.44,59.8 424.5,76.8 434.56,116.9 444.62,145.9 454.68,81.8 464.74,89.5 474.8,91.3 484.86,106 494.92,124.2 504.98,105 515.04,109.2 525.1,109.2 535.16,109.2" fill="none" stroke="#2a56a6" stroke-width="0.75" stroke-linejoin="round"/>
<polyline points="323.9,73.7 333.96,65.6 344.02,116.7 354.08,66.5 364.14,68.1 374.2,65.2 384.26,63.5 394.32,65.5 404.38,68.7 414.44,60.6 424.5,74.4 434.56,111.3 444.62,122.4 454.68,79.8 464.74,89.5 474.8,89 484.86,128.5 494.92,140.2 504.98,103.5 515.04,107.3 525.1,108.2 535.16,108.2" fill="none" stroke="#2a56a6" stroke-width="0.75" stroke-linejoin="round"/>
<circle cx="323.9" cy="60" r="1.7" fill="#123f98"/>
<circle cx="333.96" cy="57.6" r="1.7" fill="#123f98"/>
<circle cx="344.02" cy="90.3" r="1.7" fill="#123f98"/>
<circle cx="354.08" cy="62.4" r="1.7" fill="#123f98"/>
<circle cx="364.14" cy="65.6" r="1.7" fill="#123f98"/>
<circle cx="374.2" cy="63.5" r="1.7" fill="#123f98"/>
<circle cx="384.26" cy="63.5" r="1.7" fill="#123f98"/>
<circle cx="394.32" cy="63.5" r="1.7" fill="#123f98"/>
<circle cx="404.38" cy="66.8" r="1.7" fill="#123f98"/>
<circle cx="414.44" cy="55" r="1.7" fill="#123f98"/>
<circle cx="424.5" cy="72" r="1.7" fill="#123f98"/>
<circle cx="434.56" cy="109.6" r="1.7" fill="#123f98"/>
<circle cx="444.62" cy="120" r="1.7" fill="#123f98"/>
<circle cx="454.68" cy="77.4" r="1.7" fill="#123f98"/>
<circle cx="464.74" cy="80.6" r="1.7" fill="#123f98"/>
<circle cx="474.8" cy="87.1" r="1.7" fill="#123f98"/>
<circle cx="484.86" cy="103.5" r="1.7" fill="#123f98"/>
<circle cx="494.92" cy="121.4" r="1.7" fill="#123f98"/>
<circle cx="504.98" cy="101.6" r="1.7" fill="#123f98"/>
<circle cx="515.04" cy="105.4" r="1.7" fill="#123f98"/>
<circle cx="525.1" cy="107.3" r="1.7" fill="#123f98"/>
<circle cx="535.16" cy="108.2" r="1.7" fill="#123f98"/>
<circle cx="323.9" cy="73.7" r="1.7" fill="#123f98"/>
<circle cx="333.96" cy="62.4" r="1.7" fill="#123f98"/>
<circle cx="344.02" cy="91.6" r="1.7" fill="#123f98"/>
<circle cx="354.08" cy="66.5" r="1.7" fill="#123f98"/>
<circle cx="364.14" cy="68.1" r="1.7" fill="#123f98"/>
<circle cx="374.2" cy="65.2" r="1.7" fill="#123f98"/>
<circle cx="384.26" cy="64.7" r="1.7" fill="#123f98"/>
<circle cx="394.32" cy="65.5" r="1.7" fill="#123f98"/>
<circle cx="404.38" cy="68.7" r="1.7" fill="#123f98"/>
<circle cx="414.44" cy="42.6" r="1.7" fill="#123f98"/>
<circle cx="424.5" cy="74.4" r="1.7" fill="#123f98"/>
<circle cx="434.56" cy="111.3" r="1.7" fill="#123f98"/>
<circle cx="444.62" cy="108.4" r="1.7" fill="#123f98"/>
<circle cx="454.68" cy="79.8" r="1.7" fill="#123f98"/>
<circle cx="464.74" cy="87.8" r="1.7" fill="#123f98"/>
<circle cx="474.8" cy="89" r="1.7" fill="#123f98"/>
<circle cx="484.86" cy="104.5" r="1.7" fill="#123f98"/>
<circle cx="494.92" cy="124.2" r="1.7" fill="#123f98"/>
<circle cx="504.98" cy="103.5" r="1.7" fill="#123f98"/>
<circle cx="515.04" cy="107.3" r="1.7" fill="#123f98"/>
<circle cx="525.1" cy="108.2" r="1.7" fill="#123f98"/>
<circle cx="535.16" cy="109.2" r="1.7" fill="#123f98"/>
<circle cx="323.9" cy="77.7" r="1.7" fill="#123f98"/>
<circle cx="333.96" cy="64" r="1.7" fill="#123f98"/>
<circle cx="344.02" cy="93.4" r="1.7" fill="#123f98"/>
<circle cx="354.08" cy="68.1" r="1.7" fill="#123f98"/>
<circle cx="364.14" cy="69.7" r="1.7" fill="#123f98"/>
<circle cx="374.2" cy="66.3" r="1.7" fill="#123f98"/>
<circle cx="384.26" cy="64.7" r="1.7" fill="#123f98"/>
<circle cx="394.32" cy="67.4" r="1.7" fill="#123f98"/>
<circle cx="404.38" cy="70.6" r="1.7" fill="#123f98"/>
<circle cx="414.44" cy="59.8" r="1.7" fill="#123f98"/>
<circle cx="424.5" cy="76.8" r="1.7" fill="#123f98"/>
<circle cx="434.56" cy="116.9" r="1.7" fill="#123f98"/>
<circle cx="444.62" cy="145.9" r="1.7" fill="#123f98"/>
<circle cx="454.68" cy="81.8" r="1.7" fill="#123f98"/>
<circle cx="464.74" cy="89.5" r="1.7" fill="#123f98"/>
<circle cx="474.8" cy="91.3" r="1.7" fill="#123f98"/>
<circle cx="484.86" cy="106" r="1.7" fill="#123f98"/>
<circle cx="494.92" cy="124.2" r="1.7" fill="#123f98"/>
<circle cx="504.98" cy="105" r="1.7" fill="#123f98"/>
<circle cx="515.04" cy="109.2" r="1.7" fill="#123f98"/>
<circle cx="525.1" cy="109.2" r="1.7" fill="#123f98"/>
<circle cx="535.16" cy="109.2" r="1.7" fill="#123f98"/>
<circle cx="323.9" cy="73.7" r="1.7" fill="#123f98"/>
<circle cx="333.96" cy="65.6" r="1.7" fill="#123f98"/>
<circle cx="344.02" cy="116.7" r="1.7" fill="#123f98"/>
<circle cx="354.08" cy="66.5" r="1.7" fill="#123f98"/>
<circle cx="364.14" cy="68.1" r="1.7" fill="#123f98"/>
<circle cx="374.2" cy="65.2" r="1.7" fill="#123f98"/>
<circle cx="384.26" cy="63.5" r="1.7" fill="#123f98"/>
<circle cx="394.32" cy="65.5" r="1.7" fill="#123f98"/>
<circle cx="404.38" cy="68.7" r="1.7" fill="#123f98"/>
<circle cx="414.44" cy="60.6" r="1.7" fill="#123f98"/>
<circle cx="424.5" cy="74.4" r="1.7" fill="#123f98"/>
<circle cx="434.56" cy="111.3" r="1.7" fill="#123f98"/>
<circle cx="444.62" cy="122.4" r="1.7" fill="#123f98"/>
<circle cx="454.68" cy="79.8" r="1.7" fill="#123f98"/>
<circle cx="464.74" cy="89.5" r="1.7" fill="#123f98"/>
<circle cx="474.8" cy="89" r="1.7" fill="#123f98"/>
<circle cx="484.86" cy="128.5" r="1.7" fill="#123f98"/>
<circle cx="494.92" cy="140.2" r="1.7" fill="#123f98"/>
<circle cx="504.98" cy="103.5" r="1.7" fill="#123f98"/>
<circle cx="515.04" cy="107.3" r="1.7" fill="#123f98"/>
<circle cx="525.1" cy="108.2" r="1.7" fill="#123f98"/>
<circle cx="535.16" cy="108.2" r="1.7" fill="#123f98"/>
<line x1="32" y1="277.7" x2="260.5" y2="277.7" stroke="#b8b8b8" stroke-width="0.8" stroke-dasharray="1.6,1"/>
<line x1="32" y1="239.5" x2="260.5" y2="239.5" stroke="#b8b8b8" stroke-width="0.8" stroke-dasharray="1.6,1"/>
<line x1="32" y1="315.9" x2="260.5" y2="315.9" stroke="#6a6a6a" stroke-width="1.1"/>
<line x1="32" y1="342.6" x2="34" y2="342.6" stroke="#6a6a6a" stroke-width="0.7"/>
<line x1="32" y1="335.87" x2="34" y2="335.87" stroke="#6a6a6a" stroke-width="0.7"/>
<line x1="32" y1="331.1" x2="34" y2="331.1" stroke="#6a6a6a" stroke-width="0.7"/>
<line x1="32" y1="327.4" x2="34" y2="327.4" stroke="#6a6a6a" stroke-width="0.7"/>
<line x1="32" y1="324.37" x2="34" y2="324.37" stroke="#6a6a6a" stroke-width="0.7"/>
<line x1="32" y1="321.82" x2="34" y2="321.82" stroke="#6a6a6a" stroke-width="0.7"/>
<line x1="32" y1="319.6" x2="34" y2="319.6" stroke="#6a6a6a" stroke-width="0.7"/>
<line x1="32" y1="317.65" x2="34" y2="317.65" stroke="#6a6a6a" stroke-width="0.7"/>
<line x1="32" y1="304.4" x2="34" y2="304.4" stroke="#6a6a6a" stroke-width="0.7"/>
<line x1="32" y1="297.67" x2="34" y2="297.67" stroke="#6a6a6a" stroke-width="0.7"/>
<line x1="32" y1="292.9" x2="34" y2="292.9" stroke="#6a6a6a" stroke-width="0.7"/>
<line x1="32" y1="289.2" x2="34" y2="289.2" stroke="#6a6a6a" stroke-width="0.7"/>
<line x1="32" y1="286.17" x2="34" y2="286.17" stroke="#6a6a6a" stroke-width="0.7"/>
<line x1="32" y1="283.62" x2="34" y2="283.62" stroke="#6a6a6a" stroke-width="0.7"/>
<line x1="32" y1="281.4" x2="34" y2="281.4" stroke="#6a6a6a" stroke-width="0.7"/>
<line x1="32" y1="279.45" x2="34" y2="279.45" stroke="#6a6a6a" stroke-width="0.7"/>
<line x1="32" y1="266.2" x2="34" y2="266.2" stroke="#6a6a6a" stroke-width="0.7"/>
<line x1="32" y1="259.47" x2="34" y2="259.47" stroke="#6a6a6a" stroke-width="0.7"/>
<line x1="32" y1="254.7" x2="34" y2="254.7" stroke="#6a6a6a" stroke-width="0.7"/>
<line x1="32" y1="251" x2="34" y2="251" stroke="#6a6a6a" stroke-width="0.7"/>
<line x1="32" y1="247.97" x2="34" y2="247.97" stroke="#6a6a6a" stroke-width="0.7"/>
<line x1="32" y1="245.42" x2="34" y2="245.42" stroke="#6a6a6a" stroke-width="0.7"/>
<line x1="32" y1="243.2" x2="34" y2="243.2" stroke="#6a6a6a" stroke-width="0.7"/>
<line x1="32" y1="241.25" x2="34" y2="241.25" stroke="#6a6a6a" stroke-width="0.7"/>
<line x1="32" y1="228" x2="34" y2="228" stroke="#6a6a6a" stroke-width="0.7"/>
<line x1="32" y1="221.27" x2="34" y2="221.27" stroke="#6a6a6a" stroke-width="0.7"/>
<line x1="32" y1="216.5" x2="34" y2="216.5" stroke="#6a6a6a" stroke-width="0.7"/>
<line x1="32" y1="212.8" x2="34" y2="212.8" stroke="#6a6a6a" stroke-width="0.7"/>
<line x1="32" y1="209.77" x2="34" y2="209.77" stroke="#6a6a6a" stroke-width="0.7"/>
<line x1="32" y1="207.22" x2="34" y2="207.22" stroke="#6a6a6a" stroke-width="0.7"/>
<line x1="32" y1="205" x2="34" y2="205" stroke="#6a6a6a" stroke-width="0.7"/>
<line x1="32" y1="203.05" x2="34" y2="203.05" stroke="#6a6a6a" stroke-width="0.7"/>
<line x1="28.5" y1="354.1" x2="32" y2="354.1" stroke="#6a6a6a" stroke-width="0.8"/>
<line x1="28.5" y1="315.9" x2="32" y2="315.9" stroke="#6a6a6a" stroke-width="0.8"/>
<line x1="28.5" y1="277.7" x2="32" y2="277.7" stroke="#6a6a6a" stroke-width="0.8"/>
<line x1="28.5" y1="239.5" x2="32" y2="239.5" stroke="#6a6a6a" stroke-width="0.8"/>
<line x1="28.5" y1="201.3" x2="32" y2="201.3" stroke="#6a6a6a" stroke-width="0.8"/>
<line x1="40.7" y1="354.1" x2="40.7" y2="352.1" stroke="#6a6a6a" stroke-width="0.7"/>
<line x1="50.77" y1="354.1" x2="50.77" y2="356.1" stroke="#6a6a6a" stroke-width="0.7"/>
<line x1="60.84" y1="354.1" x2="60.84" y2="352.1" stroke="#6a6a6a" stroke-width="0.7"/>
<line x1="70.91" y1="354.1" x2="70.91" y2="356.1" stroke="#6a6a6a" stroke-width="0.7"/>
<line x1="80.98" y1="354.1" x2="80.98" y2="352.1" stroke="#6a6a6a" stroke-width="0.7"/>
<line x1="91.05" y1="354.1" x2="91.05" y2="356.1" stroke="#6a6a6a" stroke-width="0.7"/>
<line x1="101.12" y1="354.1" x2="101.12" y2="352.1" stroke="#6a6a6a" stroke-width="0.7"/>
<line x1="111.19" y1="354.1" x2="111.19" y2="356.1" stroke="#6a6a6a" stroke-width="0.7"/>
<line x1="121.26" y1="354.1" x2="121.26" y2="352.1" stroke="#6a6a6a" stroke-width="0.7"/>
<line x1="131.33" y1="354.1" x2="131.33" y2="356.1" stroke="#6a6a6a" stroke-width="0.7"/>
<line x1="141.4" y1="354.1" x2="141.4" y2="352.1" stroke="#6a6a6a" stroke-width="0.7"/>
<line x1="151.47" y1="354.1" x2="151.47" y2="356.1" stroke="#6a6a6a" stroke-width="0.7"/>
<line x1="161.54" y1="354.1" x2="161.54" y2="352.1" stroke="#6a6a6a" stroke-width="0.7"/>
<line x1="171.61" y1="354.1" x2="171.61" y2="356.1" stroke="#6a6a6a" stroke-width="0.7"/>
<line x1="181.68" y1="354.1" x2="181.68" y2="352.1" stroke="#6a6a6a" stroke-width="0.7"/>
<line x1="191.75" y1="354.1" x2="191.75" y2="356.1" stroke="#6a6a6a" stroke-width="0.7"/>
<line x1="201.82" y1="354.1" x2="201.82" y2="352.1" stroke="#6a6a6a" stroke-width="0.7"/>
<line x1="211.89" y1="354.1" x2="211.89" y2="356.1" stroke="#6a6a6a" stroke-width="0.7"/>
<line x1="221.96" y1="354.1" x2="221.96" y2="352.1" stroke="#6a6a6a" stroke-width="0.7"/>
<line x1="232.03" y1="354.1" x2="232.03" y2="356.1" stroke="#6a6a6a" stroke-width="0.7"/>
<line x1="242.1" y1="354.1" x2="242.1" y2="352.1" stroke="#6a6a6a" stroke-width="0.7"/>
<line x1="252.17" y1="354.1" x2="252.17" y2="356.1" stroke="#6a6a6a" stroke-width="0.7"/>
<rect x="32" y="201.3" width="228.5" height="152.8" fill="none" stroke="#6a6a6a" stroke-width="1.1"/>
<text x="41.1" y="349.4" text-anchor="middle" font-size="7.3">Cs</text>
<text x="51.17" y="363.9" text-anchor="middle" font-size="7.3">Rb</text>
<text x="61.24" y="349.4" text-anchor="middle" font-size="7.3">Ba</text>
<text x="71.31" y="363.9" text-anchor="middle" font-size="7.3">Th</text>
<text x="81.38" y="349.4" text-anchor="middle" font-size="7.3">U</text>
<text x="91.45" y="363.9" text-anchor="middle" font-size="7.3">Nb</text>
<text x="101.52" y="349.4" text-anchor="middle" font-size="7.3">K</text>
<text x="111.59" y="363.9" text-anchor="middle" font-size="7.3">La</text>
<text x="121.66" y="349.4" text-anchor="middle" font-size="7.3">Ce</text>
<text x="131.73" y="363.9" text-anchor="middle" font-size="7.3">Pb</text>
<text x="141.8" y="349.4" text-anchor="middle" font-size="7.3">Pr</text>
<text x="151.87" y="363.9" text-anchor="middle" font-size="7.3">Sr</text>
<text x="161.94" y="349.4" text-anchor="middle" font-size="7.3">P</text>
<text x="172.01" y="363.9" text-anchor="middle" font-size="7.3">Nd</text>
<text x="182.08" y="349.4" text-anchor="middle" font-size="7.3">Zr</text>
<text x="192.15" y="363.9" text-anchor="middle" font-size="7.3">Sm</text>
<text x="202.22" y="349.4" text-anchor="middle" font-size="7.3">Eu</text>
<text x="212.29" y="363.9" text-anchor="middle" font-size="7.3">Ti</text>
<text x="222.36" y="349.4" text-anchor="middle" font-size="7.3">Dy</text>
<text x="232.43" y="363.9" text-anchor="middle" font-size="7.3">Y</text>
<text x="242.5" y="349.4" text-anchor="middle" font-size="7.3">Yb</text>
<text x="252.57" y="363.9" text-anchor="middle" font-size="7.3">Lu</text>
<text transform="translate(25.6,353.7) rotate(-90)" text-anchor="middle" font-size="7">0.1</text>
<text transform="translate(25.6,315.5) rotate(-90)" text-anchor="middle" font-size="7">1</text>
<text transform="translate(25.6,277.3) rotate(-90)" text-anchor="middle" font-size="7">10</text>
<text transform="translate(25.6,239.1) rotate(-90)" text-anchor="middle" font-size="7">100</text>
<text transform="translate(25.6,200.9) rotate(-90)" text-anchor="middle" font-size="7">1000</text>
<text transform="translate(11.8,277) rotate(-90)" text-anchor="middle" font-size="7.6">Sample / Primitive mantle</text>
<text x="169.6" y="213.9" font-size="8.35">Quartz syenites</text>
<rect x="247.6" y="203.7" width="9.9" height="8.5" fill="none" stroke="#707070" stroke-width="0.9"/>
<text x="252.9" y="211.2" text-anchor="middle" font-size="8.8">C</text>
<polyline points="40.7,225.1 50.77,222.1 60.84,234.4 70.91,222.9 80.98,225.4 91.05,227.9 101.12,226.8 111.19,226.8 121.26,233.6 131.33,215.4 141.4,240.4 151.47,258.2 161.54,280.8 171.61,247.5 181.68,248.3 191.75,260.1 201.82,271.6 211.89,300.4 221.96,277.3 232.03,279.7 242.1,280.1 252.17,279.2" fill="none" stroke="#df4ca8" stroke-width="0.75" stroke-linejoin="round"/>
<polyline points="40.7,234.1 50.77,223.2 60.84,239.9 70.91,224.8 80.98,229 91.05,228.5 101.12,227.9 111.19,227.5 121.26,233.6 131.33,216 141.4,240.6 151.47,263.5 161.54,281.5 171.61,247.8 181.68,250 191.75,260.5 201.82,272.5 211.89,301 221.96,278 232.03,280.3 242.1,281.5 252.17,281" fill="none" stroke="#df4ca8" stroke-width="0.75" stroke-linejoin="round"/>
<polyline points="40.7,237.7 50.77,224.8 60.84,240.5 70.91,225.5 80.98,230.3 91.05,229.5 101.12,228.5 111.19,228 121.26,233.9 131.33,217 141.4,240.9 151.47,264.5 161.54,283 171.61,248 181.68,251 191.75,261 201.82,273.5 211.89,302 221.96,278.8 232.03,281 242.1,282.5 252.17,282" fill="none" stroke="#df4ca8" stroke-width="0.75" stroke-linejoin="round"/>
<polyline points="40.7,237.7 50.77,225.9 60.84,241 70.91,226.5 80.98,232.2 91.05,231.2 101.12,229 111.19,228.4 121.26,233.9 131.33,225.2 141.4,241 151.47,265.8 161.54,284.6 171.61,248.3 181.68,252.2 191.75,261.3 201.82,274.5 211.89,302.7 221.96,279.2 232.03,281 242.1,282.9 252.17,283.5" fill="none" stroke="#df4ca8" stroke-width="0.75" stroke-linejoin="round"/>
<circle cx="40.7" cy="225.1" r="1.8" fill="#dc3a9e"/>
<circle cx="50.77" cy="222.1" r="1.8" fill="#dc3a9e"/>
<circle cx="60.84" cy="234.4" r="1.8" fill="#dc3a9e"/>
<circle cx="70.91" cy="222.9" r="1.8" fill="#dc3a9e"/>
<circle cx="80.98" cy="225.4" r="1.8" fill="#dc3a9e"/>
<circle cx="91.05" cy="227.9" r="1.8" fill="#dc3a9e"/>
<circle cx="101.12" cy="226.8" r="1.8" fill="#dc3a9e"/>
<circle cx="111.19" cy="226.8" r="1.8" fill="#dc3a9e"/>
<circle cx="121.26" cy="233.6" r="1.8" fill="#dc3a9e"/>
<circle cx="131.33" cy="215.4" r="1.8" fill="#dc3a9e"/>
<circle cx="141.4" cy="240.4" r="1.8" fill="#dc3a9e"/>
<circle cx="151.47" cy="258.2" r="1.8" fill="#dc3a9e"/>
<circle cx="161.54" cy="280.8" r="1.8" fill="#dc3a9e"/>
<circle cx="171.61" cy="247.5" r="1.8" fill="#dc3a9e"/>
<circle cx="181.68" cy="248.3" r="1.8" fill="#dc3a9e"/>
<circle cx="191.75" cy="260.1" r="1.8" fill="#dc3a9e"/>
<circle cx="201.82" cy="271.6" r="1.8" fill="#dc3a9e"/>
<circle cx="211.89" cy="300.4" r="1.8" fill="#dc3a9e"/>
<circle cx="221.96" cy="277.3" r="1.8" fill="#dc3a9e"/>
<circle cx="232.03" cy="279.7" r="1.8" fill="#dc3a9e"/>
<circle cx="242.1" cy="280.1" r="1.8" fill="#dc3a9e"/>
<circle cx="252.17" cy="279.2" r="1.8" fill="#dc3a9e"/>
<circle cx="40.7" cy="234.1" r="1.8" fill="#dc3a9e"/>
<circle cx="50.77" cy="223.2" r="1.8" fill="#dc3a9e"/>
<circle cx="60.84" cy="239.9" r="1.8" fill="#dc3a9e"/>
<circle cx="70.91" cy="224.8" r="1.8" fill="#dc3a9e"/>
<circle cx="80.98" cy="229" r="1.8" fill="#dc3a9e"/>
<circle cx="91.05" cy="228.5" r="1.8" fill="#dc3a9e"/>
<circle cx="101.12" cy="227.9" r="1.8" fill="#dc3a9e"/>
<circle cx="111.19" cy="227.5" r="1.8" fill="#dc3a9e"/>
<circle cx="121.26" cy="233.6" r="1.8" fill="#dc3a9e"/>
<circle cx="131.33" cy="216" r="1.8" fill="#dc3a9e"/>
<circle cx="141.4" cy="240.6" r="1.8" fill="#dc3a9e"/>
<circle cx="151.47" cy="263.5" r="1.8" fill="#dc3a9e"/>
<circle cx="161.54" cy="281.5" r="1.8" fill="#dc3a9e"/>
<circle cx="171.61" cy="247.8" r="1.8" fill="#dc3a9e"/>
<circle cx="181.68" cy="250" r="1.8" fill="#dc3a9e"/>
<circle cx="191.75" cy="260.5" r="1.8" fill="#dc3a9e"/>
<circle cx="201.82" cy="272.5" r="1.8" fill="#dc3a9e"/>
<circle cx="211.89" cy="301" r="1.8" fill="#dc3a9e"/>
<circle cx="221.96" cy="278" r="1.8" fill="#dc3a9e"/>
<circle cx="232.03" cy="280.3" r="1.8" fill="#dc3a9e"/>
<circle cx="242.1" cy="281.5" r="1.8" fill="#dc3a9e"/>
<circle cx="252.17" cy="281" r="1.8" fill="#dc3a9e"/>
<circle cx="40.7" cy="237.7" r="1.8" fill="#dc3a9e"/>
<circle cx="50.77" cy="224.8" r="1.8" fill="#dc3a9e"/>
<circle cx="60.84" cy="240.5" r="1.8" fill="#dc3a9e"/>
<circle cx="70.91" cy="225.5" r="1.8" fill="#dc3a9e"/>
<circle cx="80.98" cy="230.3" r="1.8" fill="#dc3a9e"/>
<circle cx="91.05" cy="229.5" r="1.8" fill="#dc3a9e"/>
<circle cx="101.12" cy="228.5" r="1.8" fill="#dc3a9e"/>
<circle cx="111.19" cy="228" r="1.8" fill="#dc3a9e"/>
<circle cx="121.26" cy="233.9" r="1.8" fill="#dc3a9e"/>
<circle cx="131.33" cy="217" r="1.8" fill="#dc3a9e"/>
<circle cx="141.4" cy="240.9" r="1.8" fill="#dc3a9e"/>
<circle cx="151.47" cy="264.5" r="1.8" fill="#dc3a9e"/>
<circle cx="161.54" cy="283" r="1.8" fill="#dc3a9e"/>
<circle cx="171.61" cy="248" r="1.8" fill="#dc3a9e"/>
<circle cx="181.68" cy="251" r="1.8" fill="#dc3a9e"/>
<circle cx="191.75" cy="261" r="1.8" fill="#dc3a9e"/>
<circle cx="201.82" cy="273.5" r="1.8" fill="#dc3a9e"/>
<circle cx="211.89" cy="302" r="1.8" fill="#dc3a9e"/>
<circle cx="221.96" cy="278.8" r="1.8" fill="#dc3a9e"/>
<circle cx="232.03" cy="281" r="1.8" fill="#dc3a9e"/>
<circle cx="242.1" cy="282.5" r="1.8" fill="#dc3a9e"/>
<circle cx="252.17" cy="282" r="1.8" fill="#dc3a9e"/>
<circle cx="40.7" cy="237.7" r="1.8" fill="#dc3a9e"/>
<circle cx="50.77" cy="225.9" r="1.8" fill="#dc3a9e"/>
<circle cx="60.84" cy="241" r="1.8" fill="#dc3a9e"/>
<circle cx="70.91" cy="226.5" r="1.8" fill="#dc3a9e"/>
<circle cx="80.98" cy="232.2" r="1.8" fill="#dc3a9e"/>
<circle cx="91.05" cy="231.2" r="1.8" fill="#dc3a9e"/>
<circle cx="101.12" cy="229" r="1.8" fill="#dc3a9e"/>
<circle cx="111.19" cy="228.4" r="1.8" fill="#dc3a9e"/>
<circle cx="121.26" cy="233.9" r="1.8" fill="#dc3a9e"/>
<circle cx="131.33" cy="225.2" r="1.8" fill="#dc3a9e"/>
<circle cx="141.4" cy="241" r="1.8" fill="#dc3a9e"/>
<circle cx="151.47" cy="265.8" r="1.8" fill="#dc3a9e"/>
<circle cx="161.54" cy="284.6" r="1.8" fill="#dc3a9e"/>
<circle cx="171.61" cy="248.3" r="1.8" fill="#dc3a9e"/>
<circle cx="181.68" cy="252.2" r="1.8" fill="#dc3a9e"/>
<circle cx="191.75" cy="261.3" r="1.8" fill="#dc3a9e"/>
<circle cx="201.82" cy="274.5" r="1.8" fill="#dc3a9e"/>
<circle cx="211.89" cy="302.7" r="1.8" fill="#dc3a9e"/>
<circle cx="221.96" cy="279.2" r="1.8" fill="#dc3a9e"/>
<circle cx="232.03" cy="281" r="1.8" fill="#dc3a9e"/>
<circle cx="242.1" cy="282.9" r="1.8" fill="#dc3a9e"/>
<circle cx="252.17" cy="283.5" r="1.8" fill="#dc3a9e"/>
<line x1="315.5" y1="277.55" x2="543.5" y2="277.55" stroke="#b8b8b8" stroke-width="0.8" stroke-dasharray="1.6,1"/>
<line x1="315.5" y1="239.32" x2="543.5" y2="239.32" stroke="#b8b8b8" stroke-width="0.8" stroke-dasharray="1.6,1"/>
<line x1="315.5" y1="315.77" x2="543.5" y2="315.77" stroke="#6a6a6a" stroke-width="1.1"/>
<line x1="315.5" y1="342.49" x2="317.5" y2="342.49" stroke="#6a6a6a" stroke-width="0.7"/>
<line x1="315.5" y1="335.76" x2="317.5" y2="335.76" stroke="#6a6a6a" stroke-width="0.7"/>
<line x1="315.5" y1="330.99" x2="317.5" y2="330.99" stroke="#6a6a6a" stroke-width="0.7"/>
<line x1="315.5" y1="327.28" x2="317.5" y2="327.28" stroke="#6a6a6a" stroke-width="0.7"/>
<line x1="315.5" y1="324.26" x2="317.5" y2="324.26" stroke="#6a6a6a" stroke-width="0.7"/>
<line x1="315.5" y1="321.7" x2="317.5" y2="321.7" stroke="#6a6a6a" stroke-width="0.7"/>
<line x1="315.5" y1="319.48" x2="317.5" y2="319.48" stroke="#6a6a6a" stroke-width="0.7"/>
<line x1="315.5" y1="317.52" x2="317.5" y2="317.52" stroke="#6a6a6a" stroke-width="0.7"/>
<line x1="315.5" y1="304.27" x2="317.5" y2="304.27" stroke="#6a6a6a" stroke-width="0.7"/>
<line x1="315.5" y1="297.54" x2="317.5" y2="297.54" stroke="#6a6a6a" stroke-width="0.7"/>
<line x1="315.5" y1="292.76" x2="317.5" y2="292.76" stroke="#6a6a6a" stroke-width="0.7"/>
<line x1="315.5" y1="289.06" x2="317.5" y2="289.06" stroke="#6a6a6a" stroke-width="0.7"/>
<line x1="315.5" y1="286.03" x2="317.5" y2="286.03" stroke="#6a6a6a" stroke-width="0.7"/>
<line x1="315.5" y1="283.47" x2="317.5" y2="283.47" stroke="#6a6a6a" stroke-width="0.7"/>
<line x1="315.5" y1="281.25" x2="317.5" y2="281.25" stroke="#6a6a6a" stroke-width="0.7"/>
<line x1="315.5" y1="279.3" x2="317.5" y2="279.3" stroke="#6a6a6a" stroke-width="0.7"/>
<line x1="315.5" y1="266.04" x2="317.5" y2="266.04" stroke="#6a6a6a" stroke-width="0.7"/>
<line x1="315.5" y1="259.31" x2="317.5" y2="259.31" stroke="#6a6a6a" stroke-width="0.7"/>
<line x1="315.5" y1="254.54" x2="317.5" y2="254.54" stroke="#6a6a6a" stroke-width="0.7"/>
<line x1="315.5" y1="250.83" x2="317.5" y2="250.83" stroke="#6a6a6a" stroke-width="0.7"/>
<line x1="315.5" y1="247.81" x2="317.5" y2="247.81" stroke="#6a6a6a" stroke-width="0.7"/>
<line x1="315.5" y1="245.25" x2="317.5" y2="245.25" stroke="#6a6a6a" stroke-width="0.7"/>
<line x1="315.5" y1="243.03" x2="317.5" y2="243.03" stroke="#6a6a6a" stroke-width="0.7"/>
<line x1="315.5" y1="241.07" x2="317.5" y2="241.07" stroke="#6a6a6a" stroke-width="0.7"/>
<line x1="315.5" y1="227.82" x2="317.5" y2="227.82" stroke="#6a6a6a" stroke-width="0.7"/>
<line x1="315.5" y1="221.09" x2="317.5" y2="221.09" stroke="#6a6a6a" stroke-width="0.7"/>
<line x1="315.5" y1="216.31" x2="317.5" y2="216.31" stroke="#6a6a6a" stroke-width="0.7"/>
<line x1="315.5" y1="212.61" x2="317.5" y2="212.61" stroke="#6a6a6a" stroke-width="0.7"/>
<line x1="315.5" y1="209.58" x2="317.5" y2="209.58" stroke="#6a6a6a" stroke-width="0.7"/>
<line x1="315.5" y1="207.02" x2="317.5" y2="207.02" stroke="#6a6a6a" stroke-width="0.7"/>
<line x1="315.5" y1="204.8" x2="317.5" y2="204.8" stroke="#6a6a6a" stroke-width="0.7"/>
<line x1="315.5" y1="202.85" x2="317.5" y2="202.85" stroke="#6a6a6a" stroke-width="0.7"/>
<line x1="312" y1="354" x2="315.5" y2="354" stroke="#6a6a6a" stroke-width="0.8"/>
<line x1="312" y1="315.77" x2="315.5" y2="315.77" stroke="#6a6a6a" stroke-width="0.8"/>
<line x1="312" y1="277.55" x2="315.5" y2="277.55" stroke="#6a6a6a" stroke-width="0.8"/>
<line x1="312" y1="239.32" x2="315.5" y2="239.32" stroke="#6a6a6a" stroke-width="0.8"/>
<line x1="312" y1="201.1" x2="315.5" y2="201.1" stroke="#6a6a6a" stroke-width="0.8"/>
<line x1="323.9" y1="354" x2="323.9" y2="352" stroke="#6a6a6a" stroke-width="0.7"/>
<line x1="333.96" y1="354" x2="333.96" y2="356" stroke="#6a6a6a" stroke-width="0.7"/>
<line x1="344.02" y1="354" x2="344.02" y2="352" stroke="#6a6a6a" stroke-width="0.7"/>
<line x1="354.08" y1="354" x2="354.08" y2="356" stroke="#6a6a6a" stroke-width="0.7"/>
<line x1="364.14" y1="354" x2="364.14" y2="352" stroke="#6a6a6a" stroke-width="0.7"/>
<line x1="374.2" y1="354" x2="374.2" y2="356" stroke="#6a6a6a" stroke-width="0.7"/>
<line x1="384.26" y1="354" x2="384.26" y2="352" stroke="#6a6a6a" stroke-width="0.7"/>
<line x1="394.32" y1="354" x2="394.32" y2="356" stroke="#6a6a6a" stroke-width="0.7"/>
<line x1="404.38" y1="354" x2="404.38" y2="352" stroke="#6a6a6a" stroke-width="0.7"/>
<line x1="414.44" y1="354" x2="414.44" y2="356" stroke="#6a6a6a" stroke-width="0.7"/>
<line x1="424.5" y1="354" x2="424.5" y2="352" stroke="#6a6a6a" stroke-width="0.7"/>
<line x1="434.56" y1="354" x2="434.56" y2="356" stroke="#6a6a6a" stroke-width="0.7"/>
<line x1="444.62" y1="354" x2="444.62" y2="352" stroke="#6a6a6a" stroke-width="0.7"/>
<line x1="454.68" y1="354" x2="454.68" y2="356" stroke="#6a6a6a" stroke-width="0.7"/>
<line x1="464.74" y1="354" x2="464.74" y2="352" stroke="#6a6a6a" stroke-width="0.7"/>
<line x1="474.8" y1="354" x2="474.8" y2="356" stroke="#6a6a6a" stroke-width="0.7"/>
<line x1="484.86" y1="354" x2="484.86" y2="352" stroke="#6a6a6a" stroke-width="0.7"/>
<line x1="494.92" y1="354" x2="494.92" y2="356" stroke="#6a6a6a" stroke-width="0.7"/>
<line x1="504.98" y1="354" x2="504.98" y2="352" stroke="#6a6a6a" stroke-width="0.7"/>
<line x1="515.04" y1="354" x2="515.04" y2="356" stroke="#6a6a6a" stroke-width="0.7"/>
<line x1="525.1" y1="354" x2="525.1" y2="352" stroke="#6a6a6a" stroke-width="0.7"/>
<line x1="535.16" y1="354" x2="535.16" y2="356" stroke="#6a6a6a" stroke-width="0.7"/>
<rect x="315.5" y="201.1" width="228" height="152.9" fill="none" stroke="#6a6a6a" stroke-width="1.1"/>
<text x="324.3" y="349.3" text-anchor="middle" font-size="7.3">Cs</text>
<text x="334.36" y="363.8" text-anchor="middle" font-size="7.3">Rb</text>
<text x="344.42" y="349.3" text-anchor="middle" font-size="7.3">Ba</text>
<text x="354.48" y="363.8" text-anchor="middle" font-size="7.3">Th</text>
<text x="364.54" y="349.3" text-anchor="middle" font-size="7.3">U</text>
<text x="374.6" y="363.8" text-anchor="middle" font-size="7.3">Nb</text>
<text x="384.66" y="349.3" text-anchor="middle" font-size="7.3">K</text>
<text x="394.72" y="363.8" text-anchor="middle" font-size="7.3">La</text>
<text x="404.78" y="349.3" text-anchor="middle" font-size="7.3">Ce</text>
<text x="414.84" y="363.8" text-anchor="middle" font-size="7.3">Pb</text>
<text x="424.9" y="349.3" text-anchor="middle" font-size="7.3">Pr</text>
<text x="434.96" y="363.8" text-anchor="middle" font-size="7.3">Sr</text>
<text x="445.02" y="349.3" text-anchor="middle" font-size="7.3">P</text>
<text x="455.08" y="363.8" text-anchor="middle" font-size="7.3">Nd</text>
<text x="465.14" y="349.3" text-anchor="middle" font-size="7.3">Zr</text>
<text x="475.2" y="363.8" text-anchor="middle" font-size="7.3">Sm</text>
<text x="485.26" y="349.3" text-anchor="middle" font-size="7.3">Eu</text>
<text x="495.32" y="363.8" text-anchor="middle" font-size="7.3">Ti</text>
<text x="505.38" y="349.3" text-anchor="middle" font-size="7.3">Dy</text>
<text x="515.44" y="363.8" text-anchor="middle" font-size="7.3">Y</text>
<text x="525.5" y="349.3" text-anchor="middle" font-size="7.3">Yb</text>
<text x="535.56" y="363.8" text-anchor="middle" font-size="7.3">Lu</text>
<text transform="translate(306.5,352.9) rotate(-90)" text-anchor="middle" font-size="7">0.1</text>
<text transform="translate(306.5,314.67) rotate(-90)" text-anchor="middle" font-size="7">1</text>
<text transform="translate(306.5,276.45) rotate(-90)" text-anchor="middle" font-size="7">10</text>
<text transform="translate(306.5,238.22) rotate(-90)" text-anchor="middle" font-size="7">100</text>
<text transform="translate(306.5,200) rotate(-90)" text-anchor="middle" font-size="7">1000</text>
<text transform="translate(292.5,275.5) rotate(-90)" text-anchor="middle" font-size="7.6">Sample / Primitive mantle</text>
<text x="470" y="214" font-size="8.35">Monzonites</text>
<rect x="530.6" y="203.7" width="9.7" height="8.7" fill="none" stroke="#707070" stroke-width="0.9"/>
<text x="536" y="211.3" text-anchor="middle" font-size="8.8">D</text>
<polyline points="323.9,222.8 333.96,219.8 344.02,261.7 354.08,229.8 364.14,228.8 374.2,228.4 384.26,233.8 394.32,221.9 404.38,232.3 414.44,212 424.5,233.6 434.56,285.5 444.62,259.1 454.68,239.2 464.74,251.9 474.8,251.1 484.86,266.7 494.92,278.9 504.98,266.4 515.04,269.9 525.1,277.2 535.16,278.2" fill="none" stroke="#33b85e" stroke-width="0.75" stroke-linejoin="round"/>
<polyline points="323.9,226 333.96,220.3 344.02,276.8 354.08,230.3 364.14,232.2 374.2,229.2 384.26,234.2 394.32,226.3 404.38,233.6 414.44,221.4 424.5,237.1 434.56,301.1 444.62,259.4 454.68,243 464.74,253.2 474.8,255.4 484.86,272.8 494.92,279.8 504.98,278.2 515.04,284.7 525.1,283.6 535.16,282.5" fill="none" stroke="#33b85e" stroke-width="0.75" stroke-linejoin="round"/>
<circle cx="323.9" cy="222.8" r="1.85" fill="#0cae47"/>
<circle cx="333.96" cy="219.8" r="1.85" fill="#0cae47"/>
<circle cx="344.02" cy="261.7" r="1.85" fill="#0cae47"/>
<circle cx="354.08" cy="229.8" r="1.85" fill="#0cae47"/>
<circle cx="364.14" cy="228.8" r="1.85" fill="#0cae47"/>
<circle cx="374.2" cy="228.4" r="1.85" fill="#0cae47"/>
<circle cx="384.26" cy="233.8" r="1.85" fill="#0cae47"/>
<circle cx="394.32" cy="221.9" r="1.85" fill="#0cae47"/>
<circle cx="404.38" cy="232.3" r="1.85" fill="#0cae47"/>
<circle cx="414.44" cy="212" r="1.85" fill="#0cae47"/>
<circle cx="424.5" cy="233.6" r="1.85" fill="#0cae47"/>
<circle cx="434.56" cy="285.5" r="1.85" fill="#0cae47"/>
<circle cx="444.62" cy="259.1" r="1.85" fill="#0cae47"/>
<circle cx="454.68" cy="239.2" r="1.85" fill="#0cae47"/>
<circle cx="464.74" cy="251.9" r="1.85" fill="#0cae47"/>
<circle cx="474.8" cy="251.1" r="1.85" fill="#0cae47"/>
<circle cx="484.86" cy="266.7" r="1.85" fill="#0cae47"/>
<circle cx="494.92" cy="278.9" r="1.85" fill="#0cae47"/>
<circle cx="504.98" cy="266.4" r="1.85" fill="#0cae47"/>
<circle cx="515.04" cy="269.9" r="1.85" fill="#0cae47"/>
<circle cx="525.1" cy="277.2" r="1.85" fill="#0cae47"/>
<circle cx="535.16" cy="278.2" r="1.85" fill="#0cae47"/>
<circle cx="323.9" cy="226" r="1.85" fill="#0cae47"/>
<circle cx="333.96" cy="220.3" r="1.85" fill="#0cae47"/>
<circle cx="344.02" cy="276.8" r="1.85" fill="#0cae47"/>
<circle cx="354.08" cy="230.3" r="1.85" fill="#0cae47"/>
<circle cx="364.14" cy="232.2" r="1.85" fill="#0cae47"/>
<circle cx="374.2" cy="229.2" r="1.85" fill="#0cae47"/>
<circle cx="384.26" cy="234.2" r="1.85" fill="#0cae47"/>
<circle cx="394.32" cy="226.3" r="1.85" fill="#0cae47"/>
<circle cx="404.38" cy="233.6" r="1.85" fill="#0cae47"/>
<circle cx="414.44" cy="221.4" r="1.85" fill="#0cae47"/>
<circle cx="424.5" cy="237.1" r="1.85" fill="#0cae47"/>
<circle cx="434.56" cy="301.1" r="1.85" fill="#0cae47"/>
<circle cx="444.62" cy="259.4" r="1.85" fill="#0cae47"/>
<circle cx="454.68" cy="243" r="1.85" fill="#0cae47"/>
<circle cx="464.74" cy="253.2" r="1.85" fill="#0cae47"/>
<circle cx="474.8" cy="255.4" r="1.85" fill="#0cae47"/>
<circle cx="484.86" cy="272.8" r="1.85" fill="#0cae47"/>
<circle cx="494.92" cy="279.8" r="1.85" fill="#0cae47"/>
<circle cx="504.98" cy="278.2" r="1.85" fill="#0cae47"/>
<circle cx="515.04" cy="284.7" r="1.85" fill="#0cae47"/>
<circle cx="525.1" cy="283.6" r="1.85" fill="#0cae47"/>
<circle cx="535.16" cy="282.5" r="1.85" fill="#0cae47"/>
</svg>
</body></html>
